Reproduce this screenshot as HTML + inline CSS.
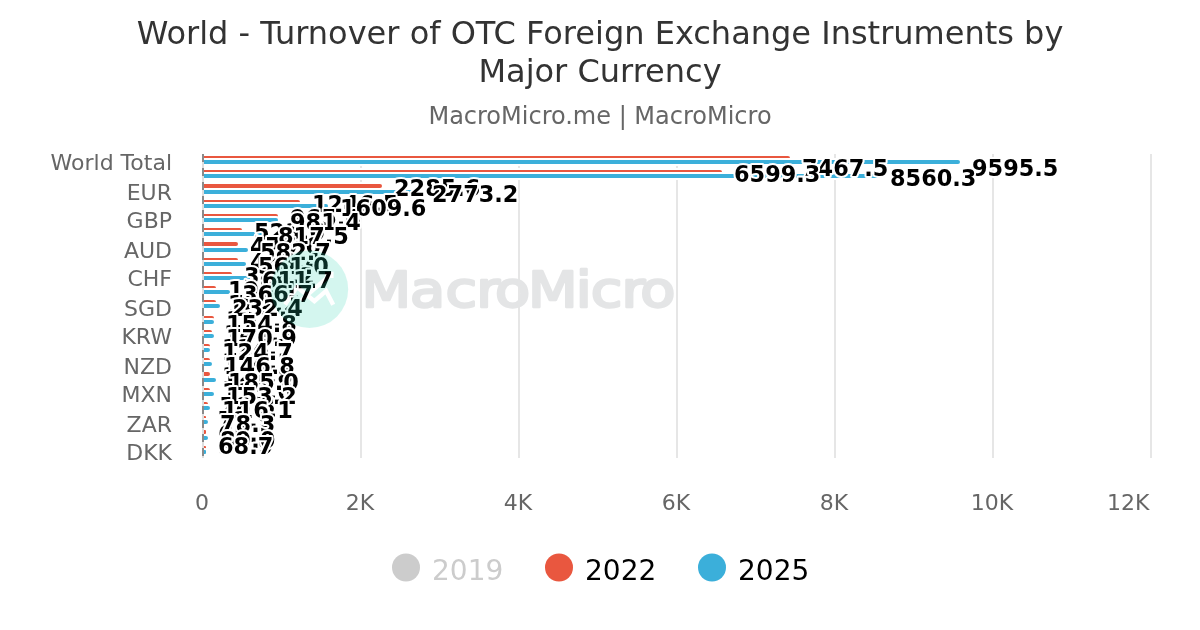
<!DOCTYPE html>
<html><head><meta charset="utf-8"><title>World - Turnover of OTC Foreign Exchange Instruments by Major Currency</title>
<style>html,body{margin:0;padding:0;background:#fff}body{width:1200px;height:630px;overflow:hidden;position:relative}</style></head>
<body>
<svg width="1200" height="630" viewBox="0 0 1200 630" style="position:absolute;left:0;top:0;font-family:'DejaVu Sans','Liberation Sans',sans-serif">
<rect width="1200" height="630" fill="#fff"/>
<rect x="360" y="154" width="2" height="304" fill="#e6e6e6"/>
<rect x="518" y="154" width="2" height="304" fill="#e6e6e6"/>
<rect x="676" y="154" width="2" height="304" fill="#e6e6e6"/>
<rect x="834" y="154" width="2" height="304" fill="#e6e6e6"/>
<rect x="992" y="154" width="2" height="304" fill="#e6e6e6"/>
<rect x="1150" y="154" width="2" height="304" fill="#e6e6e6"/>
<defs><clipPath id="pc"><rect x="202" y="154" width="948" height="304"/></clipPath></defs>
<g clip-path="url(#pc)" fill="#e9573f" stroke="#fff" stroke-width="2">
<path d="M203.0 155.0H788.0A3.0 3.0 0 0 1 791.0 158.0V158.0A3.0 3.0 0 0 1 788.0 161.0H203.0Z"/>
<path d="M203.0 169.0H720.0A3.0 3.0 0 0 1 723.0 172.0V172.0A3.0 3.0 0 0 1 720.0 175.0H203.0Z"/>
<path d="M203.0 183.0H380.0A3.0 3.0 0 0 1 383.0 186.0V186.0A3.0 3.0 0 0 1 380.0 189.0H203.0Z"/>
<path d="M203.0 199.0H298.0A3.0 3.0 0 0 1 301.0 202.0V202.0A3.0 3.0 0 0 1 298.0 205.0H203.0Z"/>
<path d="M203.0 213.0H276.0A3.0 3.0 0 0 1 279.0 216.0V216.0A3.0 3.0 0 0 1 276.0 219.0H203.0Z"/>
<path d="M203.0 227.0H240.0A3.0 3.0 0 0 1 243.0 230.0V230.0A3.0 3.0 0 0 1 240.0 233.0H203.0Z"/>
<path d="M203.0 241.0H236.0A3.0 3.0 0 0 1 239.0 244.0V244.0A3.0 3.0 0 0 1 236.0 247.0H203.0Z"/>
<path d="M203.0 257.0H236.0A3.0 3.0 0 0 1 239.0 260.0V260.0A3.0 3.0 0 0 1 236.0 263.0H203.0Z"/>
<path d="M203.0 271.0H230.0A3.0 3.0 0 0 1 233.0 274.0V274.0A3.0 3.0 0 0 1 230.0 277.0H203.0Z"/>
<path d="M203.0 285.0H214.0A3.0 3.0 0 0 1 217.0 288.0V288.0A3.0 3.0 0 0 1 214.0 291.0H203.0Z"/>
<path d="M203.0 299.0H214.0A3.0 3.0 0 0 1 217.0 302.0V302.0A3.0 3.0 0 0 1 214.0 305.0H203.0Z"/>
<path d="M203.0 315.0H212.0A3.0 3.0 0 0 1 215.0 318.0V318.0A3.0 3.0 0 0 1 212.0 321.0H203.0Z"/>
<path d="M203.0 329.0H210.0A3.0 3.0 0 0 1 213.0 332.0V332.0A3.0 3.0 0 0 1 210.0 335.0H203.0Z"/>
<path d="M203.0 343.0H208.0A3.0 3.0 0 0 1 211.0 346.0V346.0A3.0 3.0 0 0 1 208.0 349.0H203.0Z"/>
<path d="M203.0 357.0H208.0A3.0 3.0 0 0 1 211.0 360.0V360.0A3.0 3.0 0 0 1 208.0 363.0H203.0Z"/>
<path d="M203.0 371.0H208.0A3.0 3.0 0 0 1 211.0 374.0V374.0A3.0 3.0 0 0 1 208.0 377.0H203.0Z"/>
<path d="M203.0 387.0H208.0A3.0 3.0 0 0 1 211.0 390.0V390.0A3.0 3.0 0 0 1 208.0 393.0H203.0Z"/>
<path d="M203.0 401.0H206.0A3.0 3.0 0 0 1 209.0 404.0V404.0A3.0 3.0 0 0 1 206.0 407.0H203.0Z"/>
<path d="M203.0 415.0H205.0A2.0 2.0 0 0 1 207.0 417.0V419.0A2.0 2.0 0 0 1 205.0 421.0H203.0Z"/>
<path d="M203.0 429.0H205.0A2.0 2.0 0 0 1 207.0 431.0V433.0A2.0 2.0 0 0 1 205.0 435.0H203.0Z"/>
<path d="M203.0 445.0H205.0A2.0 2.0 0 0 1 207.0 447.0V449.0A2.0 2.0 0 0 1 205.0 451.0H203.0Z"/>
</g>
<g clip-path="url(#pc)" fill="#3bafda" stroke="#fff" stroke-width="2">
<path d="M203.0 159.0H958.0A3.0 3.0 0 0 1 961.0 162.0V162.0A3.0 3.0 0 0 1 958.0 165.0H203.0Z"/>
<path d="M203.0 173.0H876.0A3.0 3.0 0 0 1 879.0 176.0V176.0A3.0 3.0 0 0 1 876.0 179.0H203.0Z"/>
<path d="M203.0 189.0H418.0A3.0 3.0 0 0 1 421.0 192.0V192.0A3.0 3.0 0 0 1 418.0 195.0H203.0Z"/>
<path d="M203.0 203.0H326.0A3.0 3.0 0 0 1 329.0 206.0V206.0A3.0 3.0 0 0 1 326.0 209.0H203.0Z"/>
<path d="M203.0 217.0H276.0A3.0 3.0 0 0 1 279.0 220.0V220.0A3.0 3.0 0 0 1 276.0 223.0H203.0Z"/>
<path d="M203.0 231.0H264.0A3.0 3.0 0 0 1 267.0 234.0V234.0A3.0 3.0 0 0 1 264.0 237.0H203.0Z"/>
<path d="M203.0 247.0H246.0A3.0 3.0 0 0 1 249.0 250.0V250.0A3.0 3.0 0 0 1 246.0 253.0H203.0Z"/>
<path d="M203.0 261.0H244.0A3.0 3.0 0 0 1 247.0 264.0V264.0A3.0 3.0 0 0 1 244.0 267.0H203.0Z"/>
<path d="M203.0 275.0H248.0A3.0 3.0 0 0 1 251.0 278.0V278.0A3.0 3.0 0 0 1 248.0 281.0H203.0Z"/>
<path d="M203.0 289.0H228.0A3.0 3.0 0 0 1 231.0 292.0V292.0A3.0 3.0 0 0 1 228.0 295.0H203.0Z"/>
<path d="M203.0 303.0H218.0A3.0 3.0 0 0 1 221.0 306.0V306.0A3.0 3.0 0 0 1 218.0 309.0H203.0Z"/>
<path d="M203.0 319.0H212.0A3.0 3.0 0 0 1 215.0 322.0V322.0A3.0 3.0 0 0 1 212.0 325.0H203.0Z"/>
<path d="M203.0 333.0H212.0A3.0 3.0 0 0 1 215.0 336.0V336.0A3.0 3.0 0 0 1 212.0 339.0H203.0Z"/>
<path d="M203.0 347.0H208.0A3.0 3.0 0 0 1 211.0 350.0V350.0A3.0 3.0 0 0 1 208.0 353.0H203.0Z"/>
<path d="M203.0 361.0H210.0A3.0 3.0 0 0 1 213.0 364.0V364.0A3.0 3.0 0 0 1 210.0 367.0H203.0Z"/>
<path d="M203.0 377.0H214.0A3.0 3.0 0 0 1 217.0 380.0V380.0A3.0 3.0 0 0 1 214.0 383.0H203.0Z"/>
<path d="M203.0 391.0H212.0A3.0 3.0 0 0 1 215.0 394.0V394.0A3.0 3.0 0 0 1 212.0 397.0H203.0Z"/>
<path d="M203.0 405.0H208.0A3.0 3.0 0 0 1 211.0 408.0V408.0A3.0 3.0 0 0 1 208.0 411.0H203.0Z"/>
<path d="M203.0 419.0H206.0A3.0 3.0 0 0 1 209.0 422.0V422.0A3.0 3.0 0 0 1 206.0 425.0H203.0Z"/>
<path d="M203.0 435.0H206.0A3.0 3.0 0 0 1 209.0 438.0V438.0A3.0 3.0 0 0 1 206.0 441.0H203.0Z"/>
<path d="M203.0 449.0H205.0A2.0 2.0 0 0 1 207.0 451.0V453.0A2.0 2.0 0 0 1 205.0 455.0H203.0Z"/>
</g>
<rect x="202" y="154" width="2" height="304" fill="#dedede"/>
<line x1="203" y1="154" x2="203" y2="458" stroke="#8a8a8a" stroke-width="2" stroke-dasharray="8,6"/>
<g font-size="22.4" font-weight="bold" fill="#000" stroke-linejoin="round">
<text x="802" y="175.8" stroke="#fff" stroke-width="4">7467.5</text><text x="802" y="175.8">7467.5</text>
<text x="734" y="181.8" stroke="#fff" stroke-width="4">6599.3</text><text x="734" y="181.8">6599.3</text>
<text x="394" y="195.8" stroke="#fff" stroke-width="4">2285.6</text><text x="394" y="195.8">2285.6</text>
<text x="312" y="211.8" stroke="#fff" stroke-width="4">1246.5</text><text x="312" y="211.8">1246.5</text>
<text x="290" y="225.8" stroke="#fff" stroke-width="4">965.4</text><text x="290" y="225.8">965.4</text>
<text x="254" y="239.8" stroke="#fff" stroke-width="4">523.6</text><text x="254" y="239.8">523.6</text>
<text x="250" y="253.8" stroke="#fff" stroke-width="4">476.6</text><text x="250" y="253.8">476.6</text>
<text x="250" y="269.8" stroke="#fff" stroke-width="4">463.4</text><text x="250" y="269.8">463.4</text>
<text x="244" y="283.8" stroke="#fff" stroke-width="4">388.2</text><text x="244" y="283.8">388.2</text>
<text x="228" y="297.8" stroke="#fff" stroke-width="4">193.1</text><text x="228" y="297.8">193.1</text>
<text x="228" y="311.8" stroke="#fff" stroke-width="4">182.2</text><text x="228" y="311.8">182.2</text>
<text x="226" y="327.8" stroke="#fff" stroke-width="4">163.4</text><text x="226" y="327.8">163.4</text>
<text x="224" y="341.8" stroke="#fff" stroke-width="4">141.3</text><text x="224" y="341.8">141.3</text>
<text x="222" y="355.8" stroke="#fff" stroke-width="4">124.7</text><text x="222" y="355.8">124.7</text>
<text x="222" y="369.8" stroke="#fff" stroke-width="4">124.1</text><text x="222" y="369.8">124.1</text>
<text x="222" y="383.8" stroke="#fff" stroke-width="4">121.8</text><text x="222" y="383.8">121.8</text>
<text x="222" y="399.8" stroke="#fff" stroke-width="4">113.6</text><text x="222" y="399.8">113.6</text>
<text x="220" y="413.8" stroke="#fff" stroke-width="4">78.8</text><text x="220" y="413.8">78.8</text>
<text x="218" y="427.8" stroke="#fff" stroke-width="4">72.9</text><text x="218" y="427.8">72.9</text>
<text x="218" y="441.8" stroke="#fff" stroke-width="4">65.8</text><text x="218" y="441.8">65.8</text>
<text x="218" y="453.8" stroke="#fff" stroke-width="4">54.9</text><text x="218" y="453.8">54.9</text>
</g>
<g font-size="22.4" font-weight="bold" fill="#000" stroke-linejoin="round">
<text x="972" y="175.8" stroke="#fff" stroke-width="4">9595.5</text><text x="972" y="175.8">9595.5</text>
<text x="890" y="185.8" stroke="#fff" stroke-width="4">8560.3</text><text x="890" y="185.8">8560.3</text>
<text x="432" y="201.8" stroke="#fff" stroke-width="4">2773.2</text><text x="432" y="201.8">2773.2</text>
<text x="340" y="215.8" stroke="#fff" stroke-width="4">1609.6</text><text x="340" y="215.8">1609.6</text>
<text x="290" y="229.8" stroke="#fff" stroke-width="4">981.4</text><text x="290" y="229.8">981.4</text>
<text x="278" y="243.8" stroke="#fff" stroke-width="4">817.5</text><text x="278" y="243.8">817.5</text>
<text x="260" y="259.8" stroke="#fff" stroke-width="4">582.7</text><text x="260" y="259.8">582.7</text>
<text x="258" y="273.8" stroke="#fff" stroke-width="4">561.0</text><text x="258" y="273.8">561.0</text>
<text x="262" y="287.8" stroke="#fff" stroke-width="4">611.7</text><text x="262" y="287.8">611.7</text>
<text x="242" y="301.8" stroke="#fff" stroke-width="4">366.7</text><text x="242" y="301.8">366.7</text>
<text x="232" y="315.8" stroke="#fff" stroke-width="4">232.4</text><text x="232" y="315.8">232.4</text>
<text x="226" y="331.8" stroke="#fff" stroke-width="4">154.8</text><text x="226" y="331.8">154.8</text>
<text x="226" y="345.8" stroke="#fff" stroke-width="4">170.9</text><text x="226" y="345.8">170.9</text>
<text x="222" y="359.8" stroke="#fff" stroke-width="4">124.7</text><text x="222" y="359.8">124.7</text>
<text x="224" y="373.8" stroke="#fff" stroke-width="4">146.8</text><text x="224" y="373.8">146.8</text>
<text x="228" y="389.8" stroke="#fff" stroke-width="4">185.0</text><text x="228" y="389.8">185.0</text>
<text x="226" y="403.8" stroke="#fff" stroke-width="4">153.2</text><text x="226" y="403.8">153.2</text>
<text x="222" y="417.8" stroke="#fff" stroke-width="4">116.1</text><text x="222" y="417.8">116.1</text>
<text x="220" y="431.8" stroke="#fff" stroke-width="4">78.3</text><text x="220" y="431.8">78.3</text>
<text x="220" y="447.8" stroke="#fff" stroke-width="4">89.0</text><text x="220" y="447.8">89.0</text>
<text x="218" y="453.8" stroke="#fff" stroke-width="4">68.7</text><text x="218" y="453.8">68.7</text>
</g>
<g font-size="22" fill="#666" text-anchor="end">
<text x="172" y="169.5">World Total</text>
<text x="172" y="199.5">EUR</text>
<text x="172" y="227.5">GBP</text>
<text x="172" y="257.5">AUD</text>
<text x="172" y="285.5">CHF</text>
<text x="172" y="315.5">SGD</text>
<text x="172" y="343.5">KRW</text>
<text x="172" y="373.5">NZD</text>
<text x="172" y="401.5">MXN</text>
<text x="172" y="431.5">ZAR</text>
<text x="172" y="459.5">DKK</text>
</g>
<g font-size="22" fill="#666" text-anchor="middle">
<text x="202" y="510">0</text>
<text x="360" y="510">2K</text>
<text x="518" y="510">4K</text>
<text x="676" y="510">6K</text>
<text x="834" y="510">8K</text>
<text x="992" y="510">10K</text>
<text x="1149.5" y="510" text-anchor="end">12K</text>
</g>
<g text-anchor="middle" fill="#333" font-size="32"><text x="600" y="44">World - Turnover of OTC Foreign Exchange Instruments by</text><text x="600" y="82">Major Currency</text></g>
<text x="600" y="124" text-anchor="middle" fill="#666" font-size="24">MacroMicro.me | MacroMicro</text>
<g font-size="28">
<circle cx="406" cy="567.5" r="14" fill="#ccc"/><text x="432" y="579.5" fill="#ccc">2019</text>
<circle cx="559" cy="567.5" r="14" fill="#e9573f"/><text x="585" y="579.5" fill="#000">2022</text>
<circle cx="712" cy="567.5" r="14" fill="#3bafda"/><text x="738" y="579.5" fill="#000">2025</text>
</g>
<text transform="scale(1.15,1)" x="314.3 356.5 387.4 414.1 430.4 459.1 500.7 513.7 540.5 556.7" y="307.1" font-family="'DejaVu Sans',sans-serif" font-size="50" fill="#e4e5e6" stroke="#e4e5e6" stroke-width="2.5" stroke-linejoin="round">MacroMicro</text>
<g opacity="0.2">
<mask id="wm" maskUnits="userSpaceOnUse" x="260" y="240" width="100" height="100"><rect x="260" y="240" width="100" height="100" fill="#fff"/><path d="M285 304.5 L297 287 L314.4 301.2 L326.1 291 L333.2 304.8 M301 300.5 L331.2 274.2 M325 273.9 L331.4 273.9 L331.4 278" fill="none" stroke="#000" stroke-width="4.3"/></mask>
<circle cx="309.5" cy="289.3" r="38.7" fill="#2dd7b4" mask="url(#wm)"/>
</g>
</svg>
</body></html>
